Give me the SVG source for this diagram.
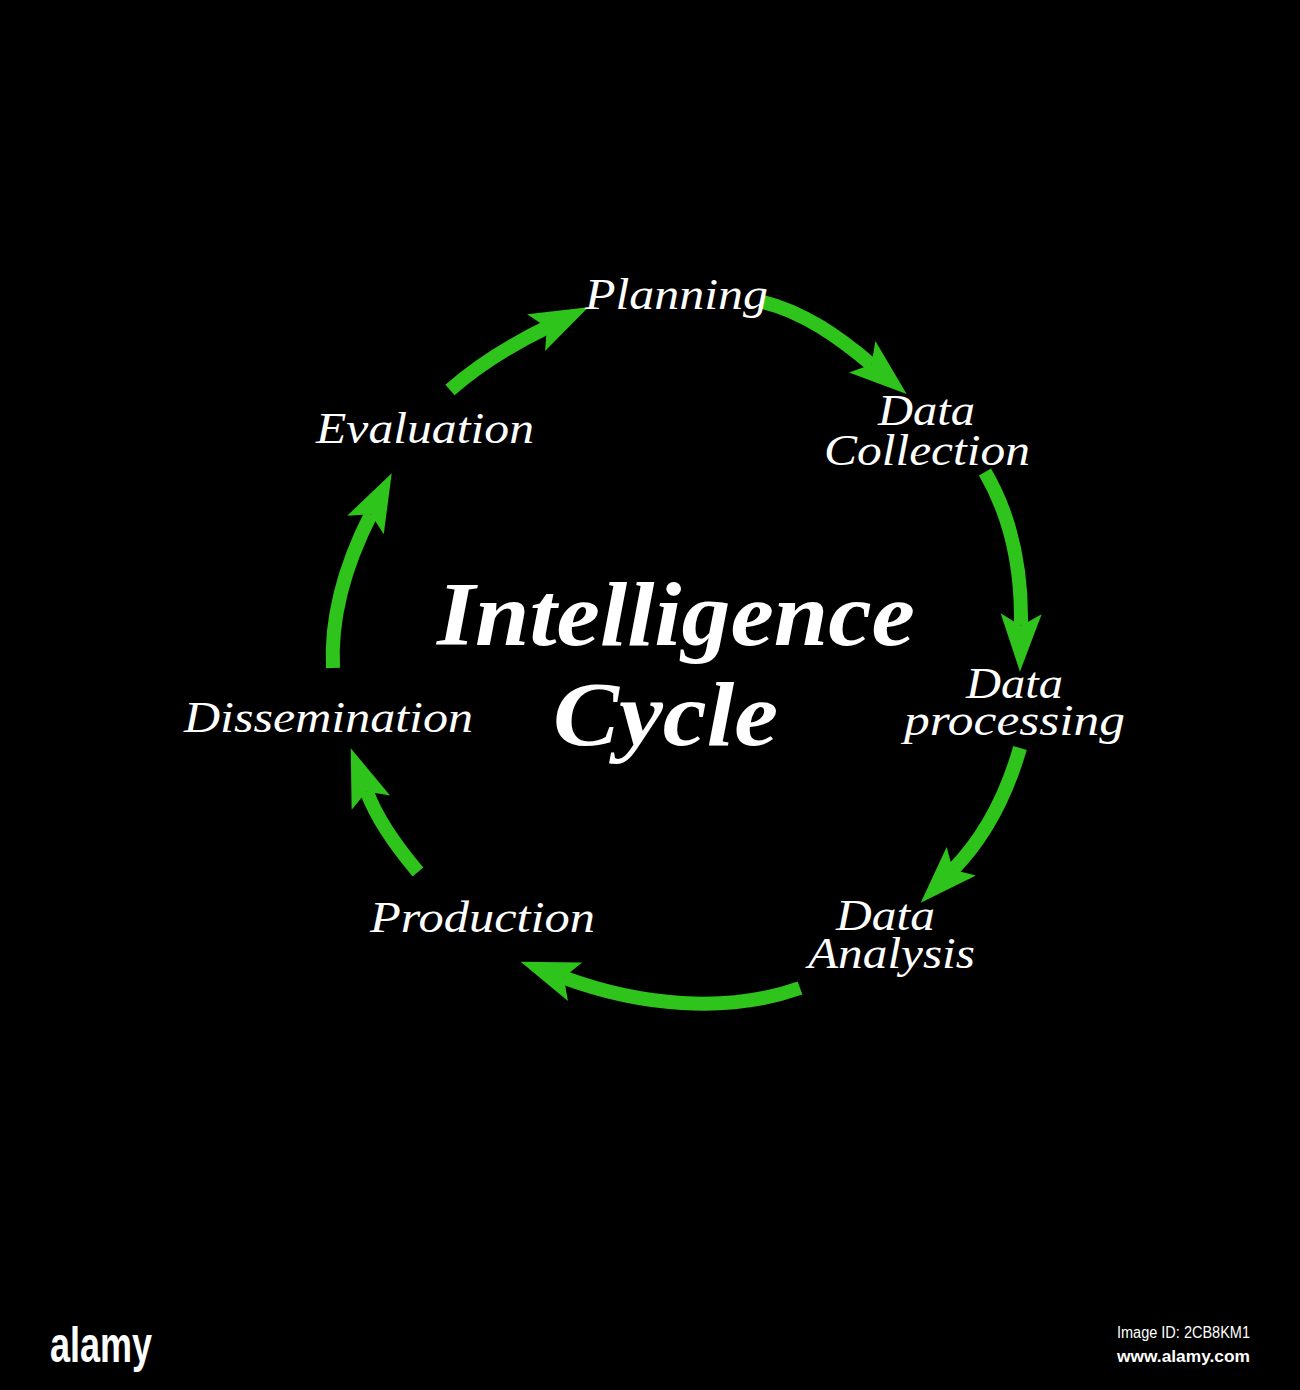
<svg xmlns="http://www.w3.org/2000/svg" width="1300" height="1390" viewBox="0 0 1300 1390">
  <style>
    .lbl { font-family: "Liberation Serif", "Times New Roman", serif; font-style: italic; font-size: 44px; fill: #ffffff; }
    .title { font-family: "Liberation Serif", "Times New Roman", serif; font-style: italic; font-weight: bold; font-size: 90px; fill: #ffffff; }
    .arrow { fill: none; stroke: #2ec41c; stroke-width: 14; marker-end: url(#head); }
    .foot { font-family: "Liberation Sans", Arial, sans-serif; fill: #ffffff; }
  </style>
  <defs>
    <marker id="head" markerUnits="userSpaceOnUse" markerWidth="60" markerHeight="44" refX="12" refY="0" orient="auto" overflow="visible">
      <path d="M0,-20.5 L58,0 L0,20.5 L12,0 Z" fill="#2ec41c"/>
    </marker>
  </defs>
  <rect x="0" y="0" width="1300" height="1390" fill="#000000"/>

  <g id="connectors">
    <path class="arrow" d="M450,390 C478.5,364.9 512.7,344 546.9,327.4"/>
    <path class="arrow" d="M763,302 C803.8,311.9 839.2,337.5 871.4,364.5"/>
    <path class="arrow" d="M985,472 C1011.7,517.8 1022,572.7 1020.9,625.7"/>
    <path class="arrow" d="M1020,748 C1007.3,792.2 985.1,836.9 952.9,869.8"/>
    <path class="arrow" d="M800,988 C725.6,1014.6 637.9,1004.9 563.8,977.6"/>
    <path class="arrow" d="M418,872 C397.3,847.6 377.8,821.4 366.7,791.4"/>
    <path class="arrow" d="M333,668 C330.2,615.1 346.9,561.5 370.9,514.3"/>
  </g>

  <g id="title">
    <text class="title" x="437" y="645" textLength="478" lengthAdjust="spacingAndGlyphs">Intelligence</text>
    <text class="title" x="553" y="745" textLength="225" lengthAdjust="spacingAndGlyphs">Cycle</text>
  </g>
  <g id="planning">
    <text class="lbl" x="585" y="309" textLength="183" lengthAdjust="spacingAndGlyphs">Planning</text>
  </g>
  <g id="data-collection">
    <text class="lbl" x="878" y="425" textLength="97" lengthAdjust="spacingAndGlyphs">Data</text>
    <text class="lbl" x="824" y="465" textLength="206" lengthAdjust="spacingAndGlyphs">Collection</text>
  </g>
  <g id="data-processing">
    <text class="lbl" x="966" y="698" textLength="97" lengthAdjust="spacingAndGlyphs">Data</text>
    <text class="lbl" x="904" y="735" textLength="221" lengthAdjust="spacingAndGlyphs">processing</text>
  </g>
  <g id="data-analysis">
    <text class="lbl" x="836" y="930" textLength="99" lengthAdjust="spacingAndGlyphs">Data</text>
    <text class="lbl" x="808" y="968" textLength="167" lengthAdjust="spacingAndGlyphs">Analysis</text>
  </g>
  <g id="production">
    <text class="lbl" x="370" y="932" textLength="225" lengthAdjust="spacingAndGlyphs">Production</text>
  </g>
  <g id="dissemination">
    <text class="lbl" x="184" y="732" textLength="289" lengthAdjust="spacingAndGlyphs">Dissemination</text>
  </g>
  <g id="evaluation">
    <text class="lbl" x="316" y="443" textLength="218" lengthAdjust="spacingAndGlyphs">Evaluation</text>
  </g>

  <g id="footer">
    <text class="foot" x="50" y="1362" font-size="50" font-weight="bold" textLength="102" lengthAdjust="spacingAndGlyphs">alamy</text>
    <text class="foot" x="1117" y="1338" font-size="16" textLength="133" lengthAdjust="spacingAndGlyphs">Image ID: 2CB8KM1</text>
    <text class="foot" x="1117" y="1362" font-size="17" font-weight="bold" textLength="133" lengthAdjust="spacingAndGlyphs">www.alamy.com</text>
  </g>
</svg>
